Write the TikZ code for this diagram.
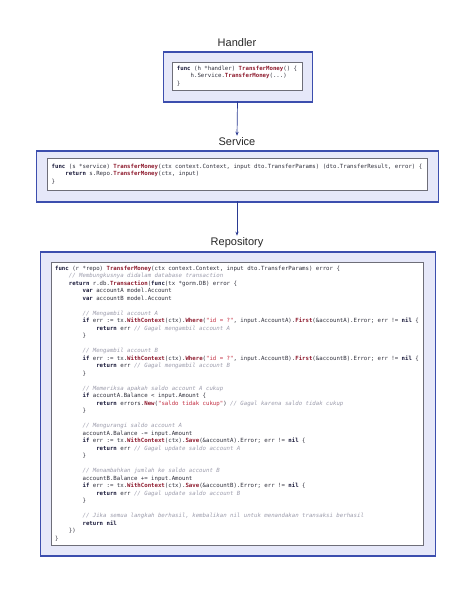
\documentclass[tikz,border=0pt]{standalone}
\usepackage{fontspec}
\setmainfont{Liberation Sans}
\newfontfamily\codefont{DejaVu Sans Mono}
\usetikzlibrary{arrows.meta}

\definecolor{layerfill}{HTML}{E6E8F9}
\definecolor{layerline}{HTML}{3C4EAE}
\definecolor{codeline}{HTML}{6E6E78}
\definecolor{codetext}{HTML}{2E2E3A}
\definecolor{kwcol}{HTML}{1C1C3C}
\definecolor{fncol}{HTML}{8E1B2E}
\definecolor{cmtcol}{HTML}{9C9CAC}
\definecolor{strcol}{HTML}{C22A3E}
\definecolor{arrowcol}{HTML}{2A3A92}

\newcommand\kw[1]{\textbf{\color{kwcol}#1}}
\newcommand\fnc[1]{\textbf{\color{fncol}#1}}
\newcommand\cmt[1]{\textit{\color{cmtcol}#1}}
\newcommand\strg[1]{{\color{strcol}#1}}
\newcommand\ind[1]{\hspace*{#1\fontcharwd\font`\0}}

\tikzset{
  layer/.style={draw=layerline, fill=layerfill, line width=0.8pt,
    postaction={draw=layerline, line width=0.5pt,
      transform canvas={shift={(0.6pt,-0.9pt)}}}},
  codebox/.style={draw=codeline, fill=white, line width=0.6pt, align=left,
    inner sep=0pt, text=codetext,
    font=\codefont\fontsize{5.7}{7.5}\selectfont},
  title/.style={font=\fontsize{11}{13}\selectfont, text=black!85, inner sep=2pt},
  flow/.style={draw=arrowcol, line width=0.7pt, -{Stealth[length=4pt,width=3.2pt]}}
}

\begin{document}
\begin{tikzpicture}[x=1pt, y=-1pt]
  \useasboundingbox (0,0) rectangle (474,592);

  % handler layer
  \node[title] (handlerTitle) at (237,43) {Handler};
  \node[layer, minimum width=149pt, minimum height=50pt] (handlerLayer) at (237.5,76) {};
  \node[codebox, minimum width=130pt, minimum height=28pt] (handlerCode) at (237,76) {%
\kw{func} (h *handler) \fnc{TransferMoney}() \{\\
\ind{4}h.Service.\fnc{TransferMoney}(...)\\
\}};

  % service layer
  \node[title] (serviceTitle) at (237,142) {Service};
  \node[layer, minimum width=402pt, minimum height=51pt] (serviceLayer) at (237,175.5) {};
  \node[codebox, minimum width=380pt, minimum height=32pt] (serviceCode) at (237,174) {%
\kw{func} (s *service) \fnc{TransferMoney}(ctx context.Context, input dto.TransferParams) (dto.TransferResult, error) \{\\
\ind{4}\kw{return} s.Repo.\fnc{TransferMoney}(ctx, input)\\
\}};

  % repository layer
  \node[title] (repoTitle) at (237,243) {Repository};
  \node[layer, minimum width=395pt, minimum height=304pt] (repoLayer) at (237.5,403) {};
  \node[codebox, minimum width=372pt, minimum height=283pt] (repoCode) at (237,403.5) {%
\kw{func} (r *repo) \fnc{TransferMoney}(ctx context.Context, input dto.TransferParams) error \{\\
\ind{4}\cmt{// Membungkusnya didalam database transaction}\\
\ind{4}\kw{return} r.db.\fnc{Transaction}(\kw{func}(tx *gorm.DB) error \{\\
\ind{8}\kw{var} accountA model.Account\\
\ind{8}\kw{var} accountB model.Account\\[7.5pt]
\ind{8}\cmt{// Mengambil account A}\\
\ind{8}\kw{if} err := tx.\fnc{WithContext}(ctx).\fnc{Where}(\strg{"id = ?"}, input.AccountA).\fnc{First}(\&accountA).Error; err != \kw{nil} \{\\
\ind{12}\kw{return} err \cmt{// Gagal mengambil account A}\\
\ind{8}\}\\[7.5pt]
\ind{8}\cmt{// Mengambil account B}\\
\ind{8}\kw{if} err := tx.\fnc{WithContext}(ctx).\fnc{Where}(\strg{"id = ?"}, input.AccountB).\fnc{First}(\&accountB).Error; err != \kw{nil} \{\\
\ind{12}\kw{return} err \cmt{// Gagal mengambil account B}\\
\ind{8}\}\\[7.5pt]
\ind{8}\cmt{// Memeriksa apakah saldo account A cukup}\\
\ind{8}\kw{if} accountA.Balance < input.Amount \{\\
\ind{12}\kw{return} errors.\fnc{New}(\strg{"saldo tidak cukup"}) \cmt{// Gagal karena saldo tidak cukup}\\
\ind{8}\}\\[7.5pt]
\ind{8}\cmt{// Mengurangi saldo account A}\\
\ind{8}accountA.Balance -= input.Amount\\
\ind{8}\kw{if} err := tx.\fnc{WithContext}(ctx).\fnc{Save}(\&accountA).Error; err != \kw{nil} \{\\
\ind{12}\kw{return} err \cmt{// Gagal update saldo account A}\\
\ind{8}\}\\[7.5pt]
\ind{8}\cmt{// Menambahkan jumlah ke saldo account B}\\
\ind{8}accountB.Balance += input.Amount\\
\ind{8}\kw{if} err := tx.\fnc{WithContext}(ctx).\fnc{Save}(\&accountB).Error; err != \kw{nil} \{\\
\ind{12}\kw{return} err \cmt{// Gagal update saldo account B}\\
\ind{8}\}\\[7.5pt]
\ind{8}\cmt{// Jika semua langkah berhasil, kembalikan nil untuk menandakan transaksi berhasil}\\
\ind{8}\kw{return} \kw{nil}\\
\ind{4}\})\\
\}};

  \draw[flow] (handlerLayer.south) -- (serviceTitle.north);
  \draw[flow] (serviceLayer.south) -- (repoTitle.north);
\end{tikzpicture}
\end{document}
